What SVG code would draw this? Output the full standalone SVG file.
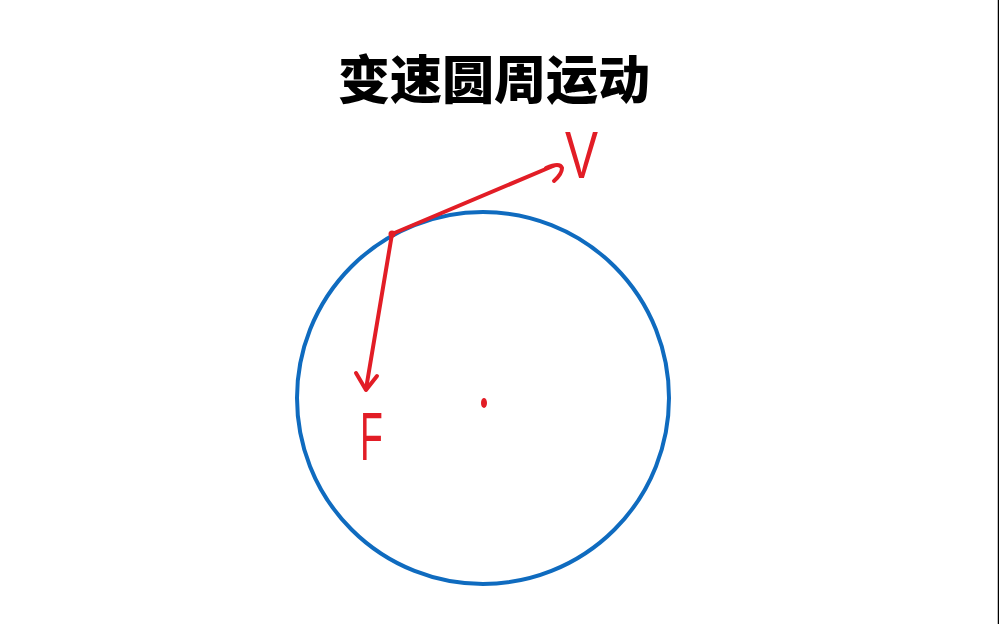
<svg xmlns="http://www.w3.org/2000/svg" width="999" height="624" viewBox="0 0 999 624">
<style>
.title{font-family:"Noto Sans CJK SC","Noto Sans",sans-serif;font-weight:900;font-size:52px;fill:#000}
.red{stroke:#e21d26;stroke-width:4;fill:none;stroke-linecap:round;stroke-linejoin:round}
.lbl{font-family:"Liberation Sans","DejaVu Sans",sans-serif;font-weight:normal;fill:#e21d26}
</style>
<rect width="999" height="624" fill="#ffffff"/>
<line x1="998.5" y1="0" x2="998.5" y2="624" stroke="#000" stroke-width="1.5"/>
<text class="title" x="494" y="99" text-anchor="middle">变速圆周运动</text>
<g id="circle">
<circle cx="483" cy="398" r="186" fill="none" stroke="#0f6bbf" stroke-width="4"/>
</g>
<g id="center">
<ellipse cx="484" cy="403" rx="3" ry="5" fill="#e21d26"/>
</g>
<g id="connectors">
<path class="red" d="M392 234 L553 166"/>
<path class="red" d="M546 168 Q560 162 562 168 Q562 174 554 181"/>
<path class="red" d="M392 234 L366 389"/>
<path class="red" d="M356 373 L366 390 L377 376"/>
<circle cx="392" cy="234" r="3.5" fill="#e21d26"/>
</g>
<g id="label-v">
<text class="lbl" transform="translate(565 178) scale(0.75 1)" font-size="66">V</text>
</g>
<g id="label-f">
<text class="lbl" transform="translate(360 460) scale(0.55 1)" font-size="68">F</text>
</g>
</svg>
